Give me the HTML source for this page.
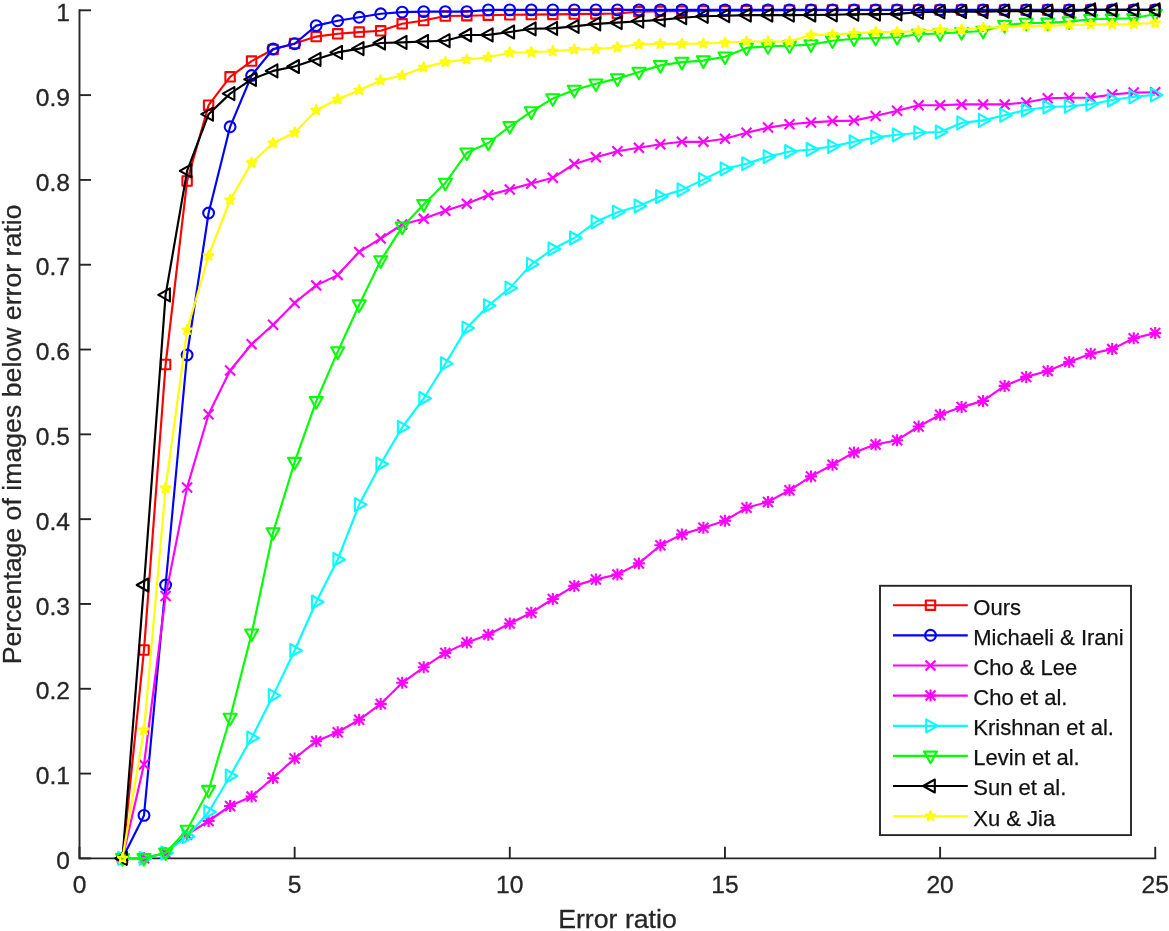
<!DOCTYPE html>
<html><head><meta charset="utf-8"><title>Error ratio</title>
<style>
html,body{margin:0;padding:0;background:#fff;}
body{width:1169px;height:931px;overflow:hidden;position:relative;font-family:"Liberation Sans",Arial,sans-serif;}
svg{position:absolute;left:0;top:0;display:block;}
text{font-family:"Liberation Sans",Arial,sans-serif;fill:#262626;}
.tk{font-size:24.6px;stroke:#262626;stroke-width:0.3px;}
.lb{font-size:26.7px;stroke:#262626;stroke-width:0.3px;}
.lg{font-size:22px;fill:#111;stroke:#111;stroke-width:0.25px;}
</style></head><body>
<svg width="1169" height="931" viewBox="0 0 1169 931">
<rect x="0" y="0" width="1169" height="931" fill="#fff"/>

<g stroke="#262626" stroke-width="1.9" fill="none" stroke-linecap="butt">
<path d="M79.5 9.35V858.4H1156.20"/>
<path d="M79.5 858.40H91.0"/>
<path d="M79.5 773.59H91.0"/>
<path d="M79.5 688.78H91.0"/>
<path d="M79.5 603.97H91.0"/>
<path d="M79.5 519.16H91.0"/>
<path d="M79.5 434.35H91.0"/>
<path d="M79.5 349.54H91.0"/>
<path d="M79.5 264.73H91.0"/>
<path d="M79.5 179.92H91.0"/>
<path d="M79.5 95.11H91.0"/>
<path d="M79.5 10.30H91.0"/>
<path d="M79.50 858.4V846.8"/>
<path d="M294.65 858.4V846.8"/>
<path d="M509.80 858.4V846.8"/>
<path d="M724.95 858.4V846.8"/>
<path d="M940.10 858.4V846.8"/>
<path d="M1155.25 858.4V846.8"/>
</g>

<text class="tk" x="70.0" y="869.0" text-anchor="end">0</text>
<text class="tk" x="70.0" y="784.2" text-anchor="end">0.1</text>
<text class="tk" x="70.0" y="699.4" text-anchor="end">0.2</text>
<text class="tk" x="70.0" y="614.6" text-anchor="end">0.3</text>
<text class="tk" x="70.0" y="529.8" text-anchor="end">0.4</text>
<text class="tk" x="70.0" y="444.9" text-anchor="end">0.5</text>
<text class="tk" x="70.0" y="360.1" text-anchor="end">0.6</text>
<text class="tk" x="70.0" y="275.3" text-anchor="end">0.7</text>
<text class="tk" x="70.0" y="190.5" text-anchor="end">0.8</text>
<text class="tk" x="70.0" y="105.7" text-anchor="end">0.9</text>
<text class="tk" x="70.0" y="20.9" text-anchor="end">1</text>
<text class="tk" x="79.5" y="893.4" text-anchor="middle">0</text>
<text class="tk" x="294.6" y="893.4" text-anchor="middle">5</text>
<text class="tk" x="509.8" y="893.4" text-anchor="middle">10</text>
<text class="tk" x="725.0" y="893.4" text-anchor="middle">15</text>
<text class="tk" x="940.1" y="893.4" text-anchor="middle">20</text>
<text class="tk" x="1155.2" y="893.4" text-anchor="middle">25</text>
<text class="lb" x="617.5" y="928.4" text-anchor="middle">Error ratio</text>
<text class="lb" transform="translate(20.5 434.4) rotate(-90)" text-anchor="middle">Percentage of images below error ratio</text>

<g fill="none" stroke="#ff0000" stroke-linejoin="round">
<polyline stroke-width="2.15" points="122.5,858.3 144.0,650.0 165.6,364.5 187.1,181.0 208.6,105.2 230.1,76.8 251.6,61.1 273.1,49.5 294.6,43.5 316.2,36.6 337.7,33.8 359.2,32.1 380.7,30.8 402.2,23.8 423.7,20.5 445.3,16.0 466.8,15.7 488.3,15.2 509.8,14.8 531.3,14.6 552.8,14.4 574.3,14.1 595.9,13.9 617.4,13.5 638.9,11.6 660.4,11.3 681.9,11.2 703.4,11.0 725.0,10.8 746.5,10.6 768.0,10.4 789.5,10.2 811.0,10.0 832.5,10.0 854.0,10.0 875.6,10.0 897.1,10.0 918.6,10.0 940.1,10.0 961.6,10.0 983.1,10.0 1004.6,10.0 1026.2,10.0 1047.7,10.0 1069.2,10.0 1090.7,10.0 1112.2,10.0 1133.7,10.0 1155.2,10.0"/>
<g stroke-width="2.1">
<rect x="117.8" y="853.6" width="9.4" height="9.4"/>
<rect x="139.3" y="645.3" width="9.4" height="9.4"/>
<rect x="160.9" y="359.8" width="9.4" height="9.4"/>
<rect x="182.4" y="176.3" width="9.4" height="9.4"/>
<rect x="203.9" y="100.5" width="9.4" height="9.4"/>
<rect x="225.4" y="72.1" width="9.4" height="9.4"/>
<rect x="246.9" y="56.4" width="9.4" height="9.4"/>
<rect x="268.4" y="44.8" width="9.4" height="9.4"/>
<rect x="289.9" y="38.8" width="9.4" height="9.4"/>
<rect x="311.5" y="31.9" width="9.4" height="9.4"/>
<rect x="333.0" y="29.1" width="9.4" height="9.4"/>
<rect x="354.5" y="27.4" width="9.4" height="9.4"/>
<rect x="376.0" y="26.1" width="9.4" height="9.4"/>
<rect x="397.5" y="19.1" width="9.4" height="9.4"/>
<rect x="419.0" y="15.8" width="9.4" height="9.4"/>
<rect x="440.6" y="11.3" width="9.4" height="9.4"/>
<rect x="462.1" y="11.0" width="9.4" height="9.4"/>
<rect x="483.6" y="10.5" width="9.4" height="9.4"/>
<rect x="505.1" y="10.1" width="9.4" height="9.4"/>
<rect x="526.6" y="9.9" width="9.4" height="9.4"/>
<rect x="548.1" y="9.7" width="9.4" height="9.4"/>
<rect x="569.6" y="9.4" width="9.4" height="9.4"/>
<rect x="591.2" y="9.2" width="9.4" height="9.4"/>
<rect x="612.7" y="8.8" width="9.4" height="9.4"/>
<rect x="634.2" y="6.9" width="9.4" height="9.4"/>
<rect x="655.7" y="6.6" width="9.4" height="9.4"/>
<rect x="677.2" y="6.5" width="9.4" height="9.4"/>
<rect x="698.7" y="6.3" width="9.4" height="9.4"/>
<rect x="720.2" y="6.1" width="9.4" height="9.4"/>
<rect x="741.8" y="5.9" width="9.4" height="9.4"/>
<rect x="763.3" y="5.7" width="9.4" height="9.4"/>
<rect x="784.8" y="5.5" width="9.4" height="9.4"/>
<rect x="806.3" y="5.3" width="9.4" height="9.4"/>
<rect x="827.8" y="5.3" width="9.4" height="9.4"/>
<rect x="849.3" y="5.3" width="9.4" height="9.4"/>
<rect x="870.9" y="5.3" width="9.4" height="9.4"/>
<rect x="892.4" y="5.3" width="9.4" height="9.4"/>
<rect x="913.9" y="5.3" width="9.4" height="9.4"/>
<rect x="935.4" y="5.3" width="9.4" height="9.4"/>
<rect x="956.9" y="5.3" width="9.4" height="9.4"/>
<rect x="978.4" y="5.3" width="9.4" height="9.4"/>
<rect x="999.9" y="5.3" width="9.4" height="9.4"/>
<rect x="1021.5" y="5.3" width="9.4" height="9.4"/>
<rect x="1043.0" y="5.3" width="9.4" height="9.4"/>
<rect x="1064.5" y="5.3" width="9.4" height="9.4"/>
<rect x="1086.0" y="5.3" width="9.4" height="9.4"/>
<rect x="1107.5" y="5.3" width="9.4" height="9.4"/>
<rect x="1129.0" y="5.3" width="9.4" height="9.4"/>
<rect x="1150.5" y="5.3" width="9.4" height="9.4"/>
</g></g>

<g fill="none" stroke="#0000ff" stroke-linejoin="round">
<polyline stroke-width="2.15" points="122.5,858.3 144.0,815.4 165.6,585.0 187.1,355.0 208.6,213.0 230.1,126.8 251.6,75.5 273.1,49.0 294.6,43.7 316.2,25.6 337.7,20.8 359.2,17.3 380.7,13.8 402.2,12.1 423.7,11.6 445.3,11.6 466.8,11.6 488.3,9.9 509.8,9.9 531.3,9.9 552.8,9.9 574.3,9.9 595.9,9.9 617.4,9.9 638.9,9.9 660.4,9.9 681.9,9.9 703.4,9.9 725.0,9.9 746.5,9.9 768.0,9.9 789.5,9.9 811.0,9.9 832.5,9.9 854.0,9.9 875.6,9.9 897.1,9.9 918.6,9.9 940.1,9.9 961.6,9.9 983.1,9.9 1004.6,9.9 1026.2,9.9 1047.7,9.9 1069.2,9.9 1090.7,9.9 1112.2,9.9 1133.7,9.9 1155.2,9.9"/>
<g stroke-width="2.1">
<circle cx="122.5" cy="858.3" r="5.4"/>
<circle cx="144.0" cy="815.4" r="5.4"/>
<circle cx="165.6" cy="585.0" r="5.4"/>
<circle cx="187.1" cy="355.0" r="5.4"/>
<circle cx="208.6" cy="213.0" r="5.4"/>
<circle cx="230.1" cy="126.8" r="5.4"/>
<circle cx="251.6" cy="75.5" r="5.4"/>
<circle cx="273.1" cy="49.0" r="5.4"/>
<circle cx="294.6" cy="43.7" r="5.4"/>
<circle cx="316.2" cy="25.6" r="5.4"/>
<circle cx="337.7" cy="20.8" r="5.4"/>
<circle cx="359.2" cy="17.3" r="5.4"/>
<circle cx="380.7" cy="13.8" r="5.4"/>
<circle cx="402.2" cy="12.1" r="5.4"/>
<circle cx="423.7" cy="11.6" r="5.4"/>
<circle cx="445.3" cy="11.6" r="5.4"/>
<circle cx="466.8" cy="11.6" r="5.4"/>
<circle cx="488.3" cy="9.9" r="5.4"/>
<circle cx="509.8" cy="9.9" r="5.4"/>
<circle cx="531.3" cy="9.9" r="5.4"/>
<circle cx="552.8" cy="9.9" r="5.4"/>
<circle cx="574.3" cy="9.9" r="5.4"/>
<circle cx="595.9" cy="9.9" r="5.4"/>
<circle cx="617.4" cy="9.9" r="5.4"/>
<circle cx="638.9" cy="9.9" r="5.4"/>
<circle cx="660.4" cy="9.9" r="5.4"/>
<circle cx="681.9" cy="9.9" r="5.4"/>
<circle cx="703.4" cy="9.9" r="5.4"/>
<circle cx="725.0" cy="9.9" r="5.4"/>
<circle cx="746.5" cy="9.9" r="5.4"/>
<circle cx="768.0" cy="9.9" r="5.4"/>
<circle cx="789.5" cy="9.9" r="5.4"/>
<circle cx="811.0" cy="9.9" r="5.4"/>
<circle cx="832.5" cy="9.9" r="5.4"/>
<circle cx="854.0" cy="9.9" r="5.4"/>
<circle cx="875.6" cy="9.9" r="5.4"/>
<circle cx="897.1" cy="9.9" r="5.4"/>
<circle cx="918.6" cy="9.9" r="5.4"/>
<circle cx="940.1" cy="9.9" r="5.4"/>
<circle cx="961.6" cy="9.9" r="5.4"/>
<circle cx="983.1" cy="9.9" r="5.4"/>
<circle cx="1004.6" cy="9.9" r="5.4"/>
<circle cx="1026.2" cy="9.9" r="5.4"/>
<circle cx="1047.7" cy="9.9" r="5.4"/>
<circle cx="1069.2" cy="9.9" r="5.4"/>
<circle cx="1090.7" cy="9.9" r="5.4"/>
<circle cx="1112.2" cy="9.9" r="5.4"/>
<circle cx="1133.7" cy="9.9" r="5.4"/>
<circle cx="1155.2" cy="9.9" r="5.4"/>
</g></g>

<g fill="none" stroke="#ff00ff" stroke-linejoin="round">
<polyline stroke-width="2.15" points="122.5,858.3 144.0,764.4 165.6,596.1 187.1,487.4 208.6,414.3 230.1,370.5 251.6,344.2 273.1,324.8 294.6,302.9 316.2,285.4 337.7,275.1 359.2,251.9 380.7,238.5 402.2,224.5 423.7,218.8 445.3,210.8 466.8,203.7 488.3,195.1 509.8,189.4 531.3,183.5 552.8,177.8 574.3,164.0 595.9,157.2 617.4,151.3 638.9,147.7 660.4,144.3 681.9,141.8 703.4,141.8 725.0,138.7 746.5,132.7 768.0,127.6 789.5,124.2 811.0,122.4 832.5,121.1 854.0,120.6 875.6,116.0 897.1,110.8 918.6,105.2 940.1,105.2 961.6,104.4 983.1,104.4 1004.6,104.4 1026.2,102.5 1047.7,98.3 1069.2,97.8 1090.7,97.6 1112.2,94.5 1133.7,92.6 1155.2,92.2"/>
<g stroke-width="2.1">
<path d="M117.5 853.3L127.5 863.3M117.5 863.3L127.5 853.3"/>
<path d="M139.0 759.4L149.0 769.4M139.0 769.4L149.0 759.4"/>
<path d="M160.6 591.1L170.6 601.1M160.6 601.1L170.6 591.1"/>
<path d="M182.1 482.4L192.1 492.4M182.1 492.4L192.1 482.4"/>
<path d="M203.6 409.3L213.6 419.3M203.6 419.3L213.6 409.3"/>
<path d="M225.1 365.5L235.1 375.5M225.1 375.5L235.1 365.5"/>
<path d="M246.6 339.2L256.6 349.2M246.6 349.2L256.6 339.2"/>
<path d="M268.1 319.8L278.1 329.8M268.1 329.8L278.1 319.8"/>
<path d="M289.6 297.9L299.6 307.9M289.6 307.9L299.6 297.9"/>
<path d="M311.2 280.4L321.2 290.4M311.2 290.4L321.2 280.4"/>
<path d="M332.7 270.1L342.7 280.1M332.7 280.1L342.7 270.1"/>
<path d="M354.2 246.9L364.2 256.9M354.2 256.9L364.2 246.9"/>
<path d="M375.7 233.5L385.7 243.5M375.7 243.5L385.7 233.5"/>
<path d="M397.2 219.5L407.2 229.5M397.2 229.5L407.2 219.5"/>
<path d="M418.7 213.8L428.7 223.8M418.7 223.8L428.7 213.8"/>
<path d="M440.3 205.8L450.3 215.8M440.3 215.8L450.3 205.8"/>
<path d="M461.8 198.7L471.8 208.7M461.8 208.7L471.8 198.7"/>
<path d="M483.3 190.1L493.3 200.1M483.3 200.1L493.3 190.1"/>
<path d="M504.8 184.4L514.8 194.4M504.8 194.4L514.8 184.4"/>
<path d="M526.3 178.5L536.3 188.5M526.3 188.5L536.3 178.5"/>
<path d="M547.8 172.8L557.8 182.8M547.8 182.8L557.8 172.8"/>
<path d="M569.3 159.0L579.3 169.0M569.3 169.0L579.3 159.0"/>
<path d="M590.9 152.2L600.9 162.2M590.9 162.2L600.9 152.2"/>
<path d="M612.4 146.3L622.4 156.3M612.4 156.3L622.4 146.3"/>
<path d="M633.9 142.7L643.9 152.7M633.9 152.7L643.9 142.7"/>
<path d="M655.4 139.3L665.4 149.3M655.4 149.3L665.4 139.3"/>
<path d="M676.9 136.8L686.9 146.8M676.9 146.8L686.9 136.8"/>
<path d="M698.4 136.8L708.4 146.8M698.4 146.8L708.4 136.8"/>
<path d="M720.0 133.7L730.0 143.7M720.0 143.7L730.0 133.7"/>
<path d="M741.5 127.7L751.5 137.7M741.5 137.7L751.5 127.7"/>
<path d="M763.0 122.6L773.0 132.6M763.0 132.6L773.0 122.6"/>
<path d="M784.5 119.2L794.5 129.2M784.5 129.2L794.5 119.2"/>
<path d="M806.0 117.4L816.0 127.4M806.0 127.4L816.0 117.4"/>
<path d="M827.5 116.1L837.5 126.1M827.5 126.1L837.5 116.1"/>
<path d="M849.0 115.6L859.0 125.6M849.0 125.6L859.0 115.6"/>
<path d="M870.6 111.0L880.6 121.0M870.6 121.0L880.6 111.0"/>
<path d="M892.1 105.8L902.1 115.8M892.1 115.8L902.1 105.8"/>
<path d="M913.6 100.2L923.6 110.2M913.6 110.2L923.6 100.2"/>
<path d="M935.1 100.2L945.1 110.2M935.1 110.2L945.1 100.2"/>
<path d="M956.6 99.4L966.6 109.4M956.6 109.4L966.6 99.4"/>
<path d="M978.1 99.4L988.1 109.4M978.1 109.4L988.1 99.4"/>
<path d="M999.6 99.4L1009.6 109.4M999.6 109.4L1009.6 99.4"/>
<path d="M1021.2 97.5L1031.2 107.5M1021.2 107.5L1031.2 97.5"/>
<path d="M1042.7 93.3L1052.7 103.3M1042.7 103.3L1052.7 93.3"/>
<path d="M1064.2 92.8L1074.2 102.8M1064.2 102.8L1074.2 92.8"/>
<path d="M1085.7 92.6L1095.7 102.6M1085.7 102.6L1095.7 92.6"/>
<path d="M1107.2 89.5L1117.2 99.5M1107.2 99.5L1117.2 89.5"/>
<path d="M1128.7 87.6L1138.7 97.6M1128.7 97.6L1138.7 87.6"/>
<path d="M1150.2 87.2L1160.2 97.2M1150.2 97.2L1160.2 87.2"/>
</g></g>

<g fill="none" stroke="#ff00ff" stroke-linejoin="round">
<polyline stroke-width="2.15" points="122.5,858.3 144.0,858.3 165.6,853.3 187.1,834.7 208.6,821.0 230.1,806.0 251.6,796.6 273.1,778.0 294.6,758.5 316.2,741.2 337.7,732.2 359.2,719.8 380.7,703.9 402.2,682.8 423.7,667.3 445.3,652.9 466.8,642.6 488.3,634.8 509.8,623.5 531.3,612.7 552.8,599.0 574.3,585.9 595.9,579.4 617.4,574.5 638.9,563.4 660.4,545.3 681.9,534.4 703.4,527.7 725.0,520.7 746.5,507.8 768.0,501.9 789.5,490.3 811.0,476.4 832.5,464.8 854.0,452.4 875.6,444.5 897.1,440.2 918.6,426.5 940.1,414.8 961.6,407.1 983.1,400.9 1004.6,385.9 1026.2,376.9 1047.7,371.0 1069.2,362.0 1090.7,353.7 1112.2,349.1 1133.7,338.2 1155.2,333.1"/>
<g stroke-width="2.1">
<path d="M116.5 858.3H128.5M122.5 852.3V864.3M117.5 853.3L127.5 863.3M117.5 863.3L127.5 853.3"/>
<path d="M138.0 858.3H150.0M144.0 852.3V864.3M139.0 853.3L149.0 863.3M139.0 863.3L149.0 853.3"/>
<path d="M159.6 853.3H171.6M165.6 847.3V859.3M160.6 848.3L170.6 858.3M160.6 858.3L170.6 848.3"/>
<path d="M181.1 834.7H193.1M187.1 828.7V840.7M182.1 829.7L192.1 839.7M182.1 839.7L192.1 829.7"/>
<path d="M202.6 821.0H214.6M208.6 815.0V827.0M203.6 816.0L213.6 826.0M203.6 826.0L213.6 816.0"/>
<path d="M224.1 806.0H236.1M230.1 800.0V812.0M225.1 801.0L235.1 811.0M225.1 811.0L235.1 801.0"/>
<path d="M245.6 796.6H257.6M251.6 790.6V802.6M246.6 791.6L256.6 801.6M246.6 801.6L256.6 791.6"/>
<path d="M267.1 778.0H279.1M273.1 772.0V784.0M268.1 773.0L278.1 783.0M268.1 783.0L278.1 773.0"/>
<path d="M288.6 758.5H300.6M294.6 752.5V764.5M289.6 753.5L299.6 763.5M289.6 763.5L299.6 753.5"/>
<path d="M310.2 741.2H322.2M316.2 735.2V747.2M311.2 736.2L321.2 746.2M311.2 746.2L321.2 736.2"/>
<path d="M331.7 732.2H343.7M337.7 726.2V738.2M332.7 727.2L342.7 737.2M332.7 737.2L342.7 727.2"/>
<path d="M353.2 719.8H365.2M359.2 713.8V725.8M354.2 714.8L364.2 724.8M354.2 724.8L364.2 714.8"/>
<path d="M374.7 703.9H386.7M380.7 697.9V709.9M375.7 698.9L385.7 708.9M375.7 708.9L385.7 698.9"/>
<path d="M396.2 682.8H408.2M402.2 676.8V688.8M397.2 677.8L407.2 687.8M397.2 687.8L407.2 677.8"/>
<path d="M417.7 667.3H429.7M423.7 661.3V673.3M418.7 662.3L428.7 672.3M418.7 672.3L428.7 662.3"/>
<path d="M439.3 652.9H451.3M445.3 646.9V658.9M440.3 647.9L450.3 657.9M440.3 657.9L450.3 647.9"/>
<path d="M460.8 642.6H472.8M466.8 636.6V648.6M461.8 637.6L471.8 647.6M461.8 647.6L471.8 637.6"/>
<path d="M482.3 634.8H494.3M488.3 628.8V640.8M483.3 629.8L493.3 639.8M483.3 639.8L493.3 629.8"/>
<path d="M503.8 623.5H515.8M509.8 617.5V629.5M504.8 618.5L514.8 628.5M504.8 628.5L514.8 618.5"/>
<path d="M525.3 612.7H537.3M531.3 606.7V618.7M526.3 607.7L536.3 617.7M526.3 617.7L536.3 607.7"/>
<path d="M546.8 599.0H558.8M552.8 593.0V605.0M547.8 594.0L557.8 604.0M547.8 604.0L557.8 594.0"/>
<path d="M568.3 585.9H580.3M574.3 579.9V591.9M569.3 580.9L579.3 590.9M569.3 590.9L579.3 580.9"/>
<path d="M589.9 579.4H601.9M595.9 573.4V585.4M590.9 574.4L600.9 584.4M590.9 584.4L600.9 574.4"/>
<path d="M611.4 574.5H623.4M617.4 568.5V580.5M612.4 569.5L622.4 579.5M612.4 579.5L622.4 569.5"/>
<path d="M632.9 563.4H644.9M638.9 557.4V569.4M633.9 558.4L643.9 568.4M633.9 568.4L643.9 558.4"/>
<path d="M654.4 545.3H666.4M660.4 539.3V551.3M655.4 540.3L665.4 550.3M655.4 550.3L665.4 540.3"/>
<path d="M675.9 534.4H687.9M681.9 528.4V540.4M676.9 529.4L686.9 539.4M676.9 539.4L686.9 529.4"/>
<path d="M697.4 527.7H709.4M703.4 521.7V533.7M698.4 522.7L708.4 532.7M698.4 532.7L708.4 522.7"/>
<path d="M719.0 520.7H731.0M725.0 514.7V526.7M720.0 515.7L730.0 525.7M720.0 525.7L730.0 515.7"/>
<path d="M740.5 507.8H752.5M746.5 501.8V513.8M741.5 502.8L751.5 512.8M741.5 512.8L751.5 502.8"/>
<path d="M762.0 501.9H774.0M768.0 495.9V507.9M763.0 496.9L773.0 506.9M763.0 506.9L773.0 496.9"/>
<path d="M783.5 490.3H795.5M789.5 484.3V496.3M784.5 485.3L794.5 495.3M784.5 495.3L794.5 485.3"/>
<path d="M805.0 476.4H817.0M811.0 470.4V482.4M806.0 471.4L816.0 481.4M806.0 481.4L816.0 471.4"/>
<path d="M826.5 464.8H838.5M832.5 458.8V470.8M827.5 459.8L837.5 469.8M827.5 469.8L837.5 459.8"/>
<path d="M848.0 452.4H860.0M854.0 446.4V458.4M849.0 447.4L859.0 457.4M849.0 457.4L859.0 447.4"/>
<path d="M869.6 444.5H881.6M875.6 438.5V450.5M870.6 439.5L880.6 449.5M870.6 449.5L880.6 439.5"/>
<path d="M891.1 440.2H903.1M897.1 434.2V446.2M892.1 435.2L902.1 445.2M892.1 445.2L902.1 435.2"/>
<path d="M912.6 426.5H924.6M918.6 420.5V432.5M913.6 421.5L923.6 431.5M913.6 431.5L923.6 421.5"/>
<path d="M934.1 414.8H946.1M940.1 408.8V420.8M935.1 409.8L945.1 419.8M935.1 419.8L945.1 409.8"/>
<path d="M955.6 407.1H967.6M961.6 401.1V413.1M956.6 402.1L966.6 412.1M956.6 412.1L966.6 402.1"/>
<path d="M977.1 400.9H989.1M983.1 394.9V406.9M978.1 395.9L988.1 405.9M978.1 405.9L988.1 395.9"/>
<path d="M998.6 385.9H1010.6M1004.6 379.9V391.9M999.6 380.9L1009.6 390.9M999.6 390.9L1009.6 380.9"/>
<path d="M1020.2 376.9H1032.2M1026.2 370.9V382.9M1021.2 371.9L1031.2 381.9M1021.2 381.9L1031.2 371.9"/>
<path d="M1041.7 371.0H1053.7M1047.7 365.0V377.0M1042.7 366.0L1052.7 376.0M1042.7 376.0L1052.7 366.0"/>
<path d="M1063.2 362.0H1075.2M1069.2 356.0V368.0M1064.2 357.0L1074.2 367.0M1064.2 367.0L1074.2 357.0"/>
<path d="M1084.7 353.7H1096.7M1090.7 347.7V359.7M1085.7 348.7L1095.7 358.7M1085.7 358.7L1095.7 348.7"/>
<path d="M1106.2 349.1H1118.2M1112.2 343.1V355.1M1107.2 344.1L1117.2 354.1M1107.2 354.1L1117.2 344.1"/>
<path d="M1127.7 338.2H1139.7M1133.7 332.2V344.2M1128.7 333.2L1138.7 343.2M1128.7 343.2L1138.7 333.2"/>
<path d="M1149.2 333.1H1161.2M1155.2 327.1V339.1M1150.2 328.1L1160.2 338.1M1150.2 338.1L1160.2 328.1"/>
</g></g>

<g fill="none" stroke="#00ffff" stroke-linejoin="round">
<polyline stroke-width="2.15" points="122.5,858.3 144.0,858.3 165.6,853.0 187.1,836.5 208.6,812.0 230.1,776.0 251.6,738.0 273.1,695.6 294.6,650.5 316.2,602.0 337.7,559.5 359.2,504.6 380.7,464.0 402.2,427.3 423.7,398.5 445.3,363.7 466.8,328.1 488.3,305.7 509.8,288.1 531.3,264.4 552.8,249.0 574.3,238.0 595.9,221.8 617.4,212.2 638.9,206.0 660.4,196.5 681.9,189.9 703.4,179.6 725.0,168.8 746.5,163.7 768.0,156.7 789.5,151.5 811.0,149.5 832.5,146.4 854.0,141.8 875.6,137.4 897.1,134.8 918.6,132.7 940.1,132.0 961.6,122.9 983.1,120.4 1004.6,115.2 1026.2,110.0 1047.7,107.0 1069.2,106.2 1090.7,104.2 1112.2,100.0 1133.7,96.8 1155.2,94.9"/>
<g stroke-width="2.1">
<path d="M118.2 851.8L129.8 858.3L118.2 864.8Z"/>
<path d="M139.7 851.8L151.3 858.3L139.7 864.8Z"/>
<path d="M161.3 846.5L172.9 853.0L161.3 859.5Z"/>
<path d="M182.8 830.0L194.4 836.5L182.8 843.0Z"/>
<path d="M204.3 805.5L215.9 812.0L204.3 818.5Z"/>
<path d="M225.8 769.5L237.4 776.0L225.8 782.5Z"/>
<path d="M247.3 731.5L258.9 738.0L247.3 744.5Z"/>
<path d="M268.8 689.1L280.4 695.6L268.8 702.1Z"/>
<path d="M290.3 644.0L301.9 650.5L290.3 657.0Z"/>
<path d="M311.9 595.5L323.5 602.0L311.9 608.5Z"/>
<path d="M333.4 553.0L345.0 559.5L333.4 566.0Z"/>
<path d="M354.9 498.1L366.5 504.6L354.9 511.1Z"/>
<path d="M376.4 457.5L388.0 464.0L376.4 470.5Z"/>
<path d="M397.9 420.8L409.5 427.3L397.9 433.8Z"/>
<path d="M419.4 392.0L431.0 398.5L419.4 405.0Z"/>
<path d="M441.0 357.2L452.6 363.7L441.0 370.2Z"/>
<path d="M462.5 321.6L474.1 328.1L462.5 334.6Z"/>
<path d="M484.0 299.2L495.6 305.7L484.0 312.2Z"/>
<path d="M505.5 281.6L517.1 288.1L505.5 294.6Z"/>
<path d="M527.0 257.9L538.6 264.4L527.0 270.9Z"/>
<path d="M548.5 242.5L560.1 249.0L548.5 255.5Z"/>
<path d="M570.0 231.5L581.6 238.0L570.0 244.5Z"/>
<path d="M591.6 215.3L603.2 221.8L591.6 228.3Z"/>
<path d="M613.1 205.7L624.7 212.2L613.1 218.7Z"/>
<path d="M634.6 199.5L646.2 206.0L634.6 212.5Z"/>
<path d="M656.1 190.0L667.7 196.5L656.1 203.0Z"/>
<path d="M677.6 183.4L689.2 189.9L677.6 196.4Z"/>
<path d="M699.1 173.1L710.7 179.6L699.1 186.1Z"/>
<path d="M720.7 162.3L732.2 168.8L720.7 175.3Z"/>
<path d="M742.2 157.2L753.8 163.7L742.2 170.2Z"/>
<path d="M763.7 150.2L775.3 156.7L763.7 163.2Z"/>
<path d="M785.2 145.0L796.8 151.5L785.2 158.0Z"/>
<path d="M806.7 143.0L818.3 149.5L806.7 156.0Z"/>
<path d="M828.2 139.9L839.8 146.4L828.2 152.9Z"/>
<path d="M849.7 135.3L861.3 141.8L849.7 148.3Z"/>
<path d="M871.3 130.9L882.9 137.4L871.3 143.9Z"/>
<path d="M892.8 128.3L904.4 134.8L892.8 141.3Z"/>
<path d="M914.3 126.2L925.9 132.7L914.3 139.2Z"/>
<path d="M935.8 125.5L947.4 132.0L935.8 138.5Z"/>
<path d="M957.3 116.4L968.9 122.9L957.3 129.4Z"/>
<path d="M978.8 113.9L990.4 120.4L978.8 126.9Z"/>
<path d="M1000.3 108.7L1011.9 115.2L1000.3 121.7Z"/>
<path d="M1021.9 103.5L1033.5 110.0L1021.9 116.5Z"/>
<path d="M1043.4 100.5L1055.0 107.0L1043.4 113.5Z"/>
<path d="M1064.9 99.7L1076.5 106.2L1064.9 112.7Z"/>
<path d="M1086.4 97.7L1098.0 104.2L1086.4 110.7Z"/>
<path d="M1107.9 93.5L1119.5 100.0L1107.9 106.5Z"/>
<path d="M1129.4 90.3L1141.0 96.8L1129.4 103.3Z"/>
<path d="M1151.0 88.4L1162.5 94.9L1151.0 101.4Z"/>
</g></g>

<g fill="none" stroke="#00ff00" stroke-linejoin="round">
<polyline stroke-width="2.15" points="122.5,858.3 144.0,858.3 165.6,852.8 187.1,830.1 208.6,790.2 230.1,718.0 251.6,633.8 273.1,532.5 294.6,462.2 316.2,401.4 337.7,351.6 359.2,304.7 380.7,260.5 402.2,226.9 423.7,204.4 445.3,183.0 466.8,152.8 488.3,143.0 509.8,126.3 531.3,111.6 552.8,98.5 574.3,90.0 595.9,83.8 617.4,78.6 638.9,72.0 660.4,65.4 681.9,62.1 703.4,60.6 725.0,56.8 746.5,47.9 768.0,46.4 789.5,45.7 811.0,44.6 832.5,40.7 854.0,38.7 875.6,38.0 897.1,37.3 918.6,34.2 940.1,33.5 961.6,32.3 983.1,31.0 1004.6,25.3 1026.2,23.0 1047.7,22.9 1069.2,21.6 1090.7,19.3 1112.2,18.8 1133.7,18.3 1155.2,14.0"/>
<g stroke-width="2.1">
<path d="M116.0 854.0L122.5 865.6L129.0 854.0Z"/>
<path d="M137.5 854.0L144.0 865.6L150.5 854.0Z"/>
<path d="M159.1 848.5L165.6 860.1L172.1 848.5Z"/>
<path d="M180.6 825.8L187.1 837.4L193.6 825.8Z"/>
<path d="M202.1 785.9L208.6 797.5L215.1 785.9Z"/>
<path d="M223.6 713.7L230.1 725.3L236.6 713.7Z"/>
<path d="M245.1 629.5L251.6 641.1L258.1 629.5Z"/>
<path d="M266.6 528.2L273.1 539.8L279.6 528.2Z"/>
<path d="M288.1 457.9L294.6 469.5L301.1 457.9Z"/>
<path d="M309.7 397.1L316.2 408.7L322.7 397.1Z"/>
<path d="M331.2 347.3L337.7 358.9L344.2 347.3Z"/>
<path d="M352.7 300.4L359.2 312.0L365.7 300.4Z"/>
<path d="M374.2 256.2L380.7 267.8L387.2 256.2Z"/>
<path d="M395.7 222.6L402.2 234.2L408.7 222.6Z"/>
<path d="M417.2 200.1L423.7 211.7L430.2 200.1Z"/>
<path d="M438.8 178.7L445.3 190.3L451.8 178.7Z"/>
<path d="M460.3 148.5L466.8 160.1L473.3 148.5Z"/>
<path d="M481.8 138.7L488.3 150.3L494.8 138.7Z"/>
<path d="M503.3 122.0L509.8 133.6L516.3 122.0Z"/>
<path d="M524.8 107.3L531.3 118.9L537.8 107.3Z"/>
<path d="M546.3 94.2L552.8 105.8L559.3 94.2Z"/>
<path d="M567.8 85.7L574.3 97.3L580.8 85.7Z"/>
<path d="M589.4 79.5L595.9 91.1L602.4 79.5Z"/>
<path d="M610.9 74.3L617.4 85.9L623.9 74.3Z"/>
<path d="M632.4 67.7L638.9 79.3L645.4 67.7Z"/>
<path d="M653.9 61.1L660.4 72.7L666.9 61.1Z"/>
<path d="M675.4 57.8L681.9 69.4L688.4 57.8Z"/>
<path d="M696.9 56.3L703.4 67.9L709.9 56.3Z"/>
<path d="M718.5 52.5L725.0 64.1L731.5 52.5Z"/>
<path d="M740.0 43.6L746.5 55.2L753.0 43.6Z"/>
<path d="M761.5 42.1L768.0 53.7L774.5 42.1Z"/>
<path d="M783.0 41.4L789.5 53.0L796.0 41.4Z"/>
<path d="M804.5 40.3L811.0 51.9L817.5 40.3Z"/>
<path d="M826.0 36.4L832.5 48.0L839.0 36.4Z"/>
<path d="M847.5 34.4L854.0 46.0L860.5 34.4Z"/>
<path d="M869.1 33.7L875.6 45.3L882.1 33.7Z"/>
<path d="M890.6 33.0L897.1 44.6L903.6 33.0Z"/>
<path d="M912.1 29.9L918.6 41.5L925.1 29.9Z"/>
<path d="M933.6 29.2L940.1 40.8L946.6 29.2Z"/>
<path d="M955.1 28.0L961.6 39.6L968.1 28.0Z"/>
<path d="M976.6 26.7L983.1 38.3L989.6 26.7Z"/>
<path d="M998.1 21.0L1004.6 32.6L1011.1 21.0Z"/>
<path d="M1019.7 18.7L1026.2 30.3L1032.7 18.7Z"/>
<path d="M1041.2 18.6L1047.7 30.2L1054.2 18.6Z"/>
<path d="M1062.7 17.3L1069.2 28.9L1075.7 17.3Z"/>
<path d="M1084.2 15.0L1090.7 26.6L1097.2 15.0Z"/>
<path d="M1105.7 14.5L1112.2 26.1L1118.7 14.5Z"/>
<path d="M1127.2 14.0L1133.7 25.6L1140.2 14.0Z"/>
<path d="M1148.8 9.7L1155.2 21.3L1161.8 9.7Z"/>
</g></g>

<g fill="none" stroke="#000000" stroke-linejoin="round">
<polyline stroke-width="2.15" points="122.5,858.3 144.0,585.0 165.6,294.9 187.1,170.9 208.6,114.2 230.1,93.6 251.6,79.4 273.1,70.9 294.6,66.5 316.2,59.3 337.7,52.4 359.2,48.6 380.7,43.0 402.2,42.4 423.7,41.5 445.3,40.7 466.8,35.0 488.3,34.9 509.8,32.0 531.3,28.8 552.8,28.4 574.3,26.4 595.9,23.9 617.4,22.6 638.9,21.2 660.4,19.9 681.9,17.7 703.4,16.3 725.0,15.7 746.5,15.1 768.0,15.1 789.5,15.1 811.0,15.0 832.5,14.8 854.0,14.2 875.6,14.1 897.1,13.9 918.6,12.3 940.1,11.8 961.6,11.6 983.1,11.7 1004.6,11.1 1026.2,11.1 1047.7,11.1 1069.2,11.3 1090.7,9.9 1112.2,9.9 1133.7,9.9 1155.2,9.9"/>
<g stroke-width="2.1">
<path d="M126.8 851.8L115.2 858.3L126.8 864.8Z"/>
<path d="M148.3 578.5L136.7 585.0L148.3 591.5Z"/>
<path d="M169.9 288.4L158.3 294.9L169.9 301.4Z"/>
<path d="M191.4 164.4L179.8 170.9L191.4 177.4Z"/>
<path d="M212.9 107.7L201.3 114.2L212.9 120.7Z"/>
<path d="M234.4 87.1L222.8 93.6L234.4 100.1Z"/>
<path d="M255.9 72.9L244.3 79.4L255.9 85.9Z"/>
<path d="M277.4 64.4L265.8 70.9L277.4 77.4Z"/>
<path d="M298.9 60.0L287.3 66.5L298.9 73.0Z"/>
<path d="M320.5 52.8L308.9 59.3L320.5 65.8Z"/>
<path d="M342.0 45.9L330.4 52.4L342.0 58.9Z"/>
<path d="M363.5 42.1L351.9 48.6L363.5 55.1Z"/>
<path d="M385.0 36.5L373.4 43.0L385.0 49.5Z"/>
<path d="M406.5 35.9L394.9 42.4L406.5 48.9Z"/>
<path d="M428.0 35.0L416.4 41.5L428.0 48.0Z"/>
<path d="M449.6 34.2L438.0 40.7L449.6 47.2Z"/>
<path d="M471.1 28.5L459.5 35.0L471.1 41.5Z"/>
<path d="M492.6 28.4L481.0 34.9L492.6 41.4Z"/>
<path d="M514.1 25.5L502.5 32.0L514.1 38.5Z"/>
<path d="M535.6 22.3L524.0 28.8L535.6 35.3Z"/>
<path d="M557.1 21.9L545.5 28.4L557.1 34.9Z"/>
<path d="M578.6 19.9L567.0 26.4L578.6 32.9Z"/>
<path d="M600.2 17.4L588.6 23.9L600.2 30.4Z"/>
<path d="M621.7 16.1L610.1 22.6L621.7 29.1Z"/>
<path d="M643.2 14.7L631.6 21.2L643.2 27.7Z"/>
<path d="M664.7 13.4L653.1 19.9L664.7 26.4Z"/>
<path d="M686.2 11.2L674.6 17.7L686.2 24.2Z"/>
<path d="M707.7 9.8L696.1 16.3L707.7 22.8Z"/>
<path d="M729.2 9.2L717.7 15.7L729.2 22.2Z"/>
<path d="M750.8 8.6L739.2 15.1L750.8 21.6Z"/>
<path d="M772.3 8.6L760.7 15.1L772.3 21.6Z"/>
<path d="M793.8 8.6L782.2 15.1L793.8 21.6Z"/>
<path d="M815.3 8.5L803.7 15.0L815.3 21.5Z"/>
<path d="M836.8 8.3L825.2 14.8L836.8 21.3Z"/>
<path d="M858.3 7.7L846.7 14.2L858.3 20.7Z"/>
<path d="M879.9 7.6L868.3 14.1L879.9 20.6Z"/>
<path d="M901.4 7.4L889.8 13.9L901.4 20.4Z"/>
<path d="M922.9 5.8L911.3 12.3L922.9 18.8Z"/>
<path d="M944.4 5.3L932.8 11.8L944.4 18.3Z"/>
<path d="M965.9 5.1L954.3 11.6L965.9 18.1Z"/>
<path d="M987.4 5.2L975.8 11.7L987.4 18.2Z"/>
<path d="M1008.9 4.6L997.3 11.1L1008.9 17.6Z"/>
<path d="M1030.5 4.6L1018.9 11.1L1030.5 17.6Z"/>
<path d="M1052.0 4.6L1040.4 11.1L1052.0 17.6Z"/>
<path d="M1073.5 4.8L1061.9 11.3L1073.5 17.8Z"/>
<path d="M1095.0 3.4L1083.4 9.9L1095.0 16.4Z"/>
<path d="M1116.5 3.4L1104.9 9.9L1116.5 16.4Z"/>
<path d="M1138.0 3.4L1126.4 9.9L1138.0 16.4Z"/>
<path d="M1159.5 3.4L1148.0 9.9L1159.5 16.4Z"/>
</g></g>

<g fill="none" stroke="#ffff00" stroke-linejoin="round">
<polyline stroke-width="2.15" points="122.5,858.3 144.0,730.1 165.6,488.1 187.1,330.0 208.6,255.8 230.1,200.0 251.6,162.9 273.1,143.0 294.6,132.7 316.2,110.3 337.7,99.2 359.2,90.2 380.7,80.4 402.2,75.5 423.7,67.4 445.3,62.1 466.8,59.5 488.3,57.2 509.8,52.7 531.3,52.3 552.8,51.2 574.3,49.5 595.9,49.2 617.4,47.3 638.9,44.3 660.4,43.8 681.9,43.8 703.4,43.5 725.0,42.8 746.5,41.5 768.0,41.5 789.5,41.5 811.0,35.1 832.5,34.5 854.0,33.3 875.6,32.1 897.1,32.1 918.6,31.0 940.1,29.7 961.6,29.5 983.1,27.7 1004.6,27.1 1026.2,26.0 1047.7,26.0 1069.2,25.0 1090.7,24.5 1112.2,24.3 1133.7,24.0 1155.2,23.0"/>
<g stroke-width="2.1">
<path d="M122.5 853.3L123.7 856.7L127.3 856.8L124.4 858.9L125.5 862.3L122.5 860.3L119.6 862.3L120.6 858.9L117.8 856.8L121.4 856.7Z"/>
<path d="M144.0 725.1L145.2 728.5L148.8 728.6L145.9 730.7L147.0 734.1L144.0 732.1L141.1 734.1L142.1 730.7L139.3 728.6L142.9 728.5Z"/>
<path d="M165.6 483.1L166.7 486.5L170.3 486.6L167.5 488.7L168.5 492.1L165.6 490.1L162.6 492.1L163.7 488.7L160.8 486.6L164.4 486.5Z"/>
<path d="M187.1 325.0L188.3 328.4L191.8 328.5L189.0 330.6L190.0 334.0L187.1 332.0L184.1 334.0L185.2 330.6L182.3 328.5L185.9 328.4Z"/>
<path d="M208.6 250.8L209.8 254.2L213.3 254.3L210.5 256.4L211.5 259.8L208.6 257.8L205.7 259.8L206.7 256.4L203.8 254.3L207.4 254.2Z"/>
<path d="M230.1 195.0L231.3 198.4L234.9 198.5L232.0 200.6L233.0 204.0L230.1 202.0L227.2 204.0L228.2 200.6L225.3 198.5L228.9 198.4Z"/>
<path d="M251.6 157.9L252.8 161.3L256.4 161.4L253.5 163.5L254.6 166.9L251.6 164.9L248.7 166.9L249.7 163.5L246.9 161.4L250.4 161.3Z"/>
<path d="M273.1 138.0L274.3 141.4L277.9 141.5L275.0 143.6L276.1 147.0L273.1 145.0L270.2 147.0L271.2 143.6L268.4 141.5L272.0 141.4Z"/>
<path d="M294.6 127.7L295.8 131.1L299.4 131.2L296.6 133.3L297.6 136.7L294.6 134.7L291.7 136.7L292.7 133.3L289.9 131.2L293.5 131.1Z"/>
<path d="M316.2 105.3L317.3 108.7L320.9 108.8L318.1 110.9L319.1 114.3L316.2 112.3L313.2 114.3L314.3 110.9L311.4 108.8L315.0 108.7Z"/>
<path d="M337.7 94.2L338.9 97.6L342.4 97.7L339.6 99.8L340.6 103.2L337.7 101.2L334.7 103.2L335.8 99.8L332.9 97.7L336.5 97.6Z"/>
<path d="M359.2 85.2L360.4 88.6L364.0 88.7L361.1 90.8L362.1 94.2L359.2 92.2L356.3 94.2L357.3 90.8L354.4 88.7L358.0 88.6Z"/>
<path d="M380.7 75.4L381.9 78.8L385.5 78.9L382.6 81.0L383.6 84.4L380.7 82.4L377.8 84.4L378.8 81.0L376.0 78.9L379.5 78.8Z"/>
<path d="M402.2 70.5L403.4 73.9L407.0 74.0L404.1 76.1L405.2 79.5L402.2 77.5L399.3 79.5L400.3 76.1L397.5 74.0L401.0 73.9Z"/>
<path d="M423.7 62.4L424.9 65.8L428.5 65.9L425.6 68.0L426.7 71.4L423.7 69.4L420.8 71.4L421.8 68.0L419.0 65.9L422.6 65.8Z"/>
<path d="M445.3 57.1L446.4 60.5L450.0 60.6L447.2 62.7L448.2 66.1L445.3 64.1L442.3 66.1L443.4 62.7L440.5 60.6L444.1 60.5Z"/>
<path d="M466.8 54.5L467.9 57.9L471.5 58.0L468.7 60.1L469.7 63.5L466.8 61.5L463.8 63.5L464.9 60.1L462.0 58.0L465.6 57.9Z"/>
<path d="M488.3 52.2L489.5 55.6L493.0 55.7L490.2 57.8L491.2 61.2L488.3 59.2L485.3 61.2L486.4 57.8L483.5 55.7L487.1 55.6Z"/>
<path d="M509.8 47.7L511.0 51.1L514.6 51.2L511.7 53.3L512.7 56.7L509.8 54.7L506.9 56.7L507.9 53.3L505.0 51.2L508.6 51.1Z"/>
<path d="M531.3 47.3L532.5 50.7L536.1 50.8L533.2 52.9L534.3 56.3L531.3 54.3L528.4 56.3L529.4 52.9L526.6 50.8L530.1 50.7Z"/>
<path d="M552.8 46.2L554.0 49.6L557.6 49.7L554.7 51.8L555.8 55.2L552.8 53.2L549.9 55.2L550.9 51.8L548.1 49.7L551.7 49.6Z"/>
<path d="M574.3 44.5L575.5 47.9L579.1 48.0L576.2 50.1L577.3 53.5L574.3 51.5L571.4 53.5L572.4 50.1L569.6 48.0L573.2 47.9Z"/>
<path d="M595.9 44.2L597.0 47.6L600.6 47.7L597.8 49.8L598.8 53.2L595.9 51.2L592.9 53.2L594.0 49.8L591.1 47.7L594.7 47.6Z"/>
<path d="M617.4 42.3L618.6 45.7L622.1 45.8L619.3 47.9L620.3 51.3L617.4 49.3L614.4 51.3L615.5 47.9L612.6 45.8L616.2 45.7Z"/>
<path d="M638.9 39.3L640.1 42.7L643.6 42.8L640.8 44.9L641.8 48.3L638.9 46.3L636.0 48.3L637.0 44.9L634.1 42.8L637.7 42.7Z"/>
<path d="M660.4 38.8L661.6 42.2L665.2 42.3L662.3 44.4L663.3 47.8L660.4 45.8L657.5 47.8L658.5 44.4L655.6 42.3L659.2 42.2Z"/>
<path d="M681.9 38.8L683.1 42.2L686.7 42.3L683.8 44.4L684.9 47.8L681.9 45.8L679.0 47.8L680.0 44.4L677.2 42.3L680.7 42.2Z"/>
<path d="M703.4 38.5L704.6 41.9L708.2 42.0L705.3 44.1L706.4 47.5L703.4 45.5L700.5 47.5L701.5 44.1L698.7 42.0L702.3 41.9Z"/>
<path d="M725.0 37.8L726.1 41.2L729.7 41.3L726.9 43.4L727.9 46.8L725.0 44.8L722.0 46.8L723.0 43.4L720.2 41.3L723.8 41.2Z"/>
<path d="M746.5 36.5L747.6 39.9L751.2 40.0L748.4 42.1L749.4 45.5L746.5 43.5L743.5 45.5L744.6 42.1L741.7 40.0L745.3 39.9Z"/>
<path d="M768.0 36.5L769.2 39.9L772.7 40.0L769.9 42.1L770.9 45.5L768.0 43.5L765.0 45.5L766.1 42.1L763.2 40.0L766.8 39.9Z"/>
<path d="M789.5 36.5L790.7 39.9L794.3 40.0L791.4 42.1L792.4 45.5L789.5 43.5L786.6 45.5L787.6 42.1L784.7 40.0L788.3 39.9Z"/>
<path d="M811.0 30.1L812.2 33.5L815.8 33.6L812.9 35.7L813.9 39.1L811.0 37.1L808.1 39.1L809.1 35.7L806.3 33.6L809.8 33.5Z"/>
<path d="M832.5 29.5L833.7 32.9L837.3 33.0L834.4 35.1L835.5 38.5L832.5 36.5L829.6 38.5L830.6 35.1L827.8 33.0L831.3 32.9Z"/>
<path d="M854.0 28.3L855.2 31.7L858.8 31.8L855.9 33.9L857.0 37.3L854.0 35.3L851.1 37.3L852.1 33.9L849.3 31.8L852.9 31.7Z"/>
<path d="M875.6 27.1L876.7 30.5L880.3 30.6L877.5 32.7L878.5 36.1L875.6 34.1L872.6 36.1L873.7 32.7L870.8 30.6L874.4 30.5Z"/>
<path d="M897.1 27.1L898.2 30.5L901.8 30.6L899.0 32.7L900.0 36.1L897.1 34.1L894.1 36.1L895.2 32.7L892.3 30.6L895.9 30.5Z"/>
<path d="M918.6 26.0L919.8 29.4L923.3 29.5L920.5 31.6L921.5 35.0L918.6 33.0L915.6 35.0L916.7 31.6L913.8 29.5L917.4 29.4Z"/>
<path d="M940.1 24.7L941.3 28.1L944.9 28.2L942.0 30.3L943.0 33.7L940.1 31.7L937.2 33.7L938.2 30.3L935.3 28.2L938.9 28.1Z"/>
<path d="M961.6 24.5L962.8 27.9L966.4 28.0L963.5 30.1L964.6 33.5L961.6 31.5L958.7 33.5L959.7 30.1L956.9 28.0L960.4 27.9Z"/>
<path d="M983.1 22.7L984.3 26.1L987.9 26.2L985.0 28.3L986.1 31.7L983.1 29.7L980.2 31.7L981.2 28.3L978.4 26.2L982.0 26.1Z"/>
<path d="M1004.6 22.1L1005.8 25.5L1009.4 25.6L1006.5 27.7L1007.6 31.1L1004.6 29.1L1001.7 31.1L1002.7 27.7L999.9 25.6L1003.5 25.5Z"/>
<path d="M1026.2 21.0L1027.3 24.4L1030.9 24.5L1028.1 26.6L1029.1 30.0L1026.2 28.0L1023.2 30.0L1024.3 26.6L1021.4 24.5L1025.0 24.4Z"/>
<path d="M1047.7 21.0L1048.9 24.4L1052.4 24.5L1049.6 26.6L1050.6 30.0L1047.7 28.0L1044.7 30.0L1045.8 26.6L1042.9 24.5L1046.5 24.4Z"/>
<path d="M1069.2 20.0L1070.4 23.4L1073.9 23.5L1071.1 25.6L1072.1 29.0L1069.2 27.0L1066.3 29.0L1067.3 25.6L1064.4 23.5L1068.0 23.4Z"/>
<path d="M1090.7 19.5L1091.9 22.9L1095.5 23.0L1092.6 25.1L1093.6 28.5L1090.7 26.5L1087.8 28.5L1088.8 25.1L1085.9 23.0L1089.5 22.9Z"/>
<path d="M1112.2 19.3L1113.4 22.7L1117.0 22.8L1114.1 24.9L1115.2 28.3L1112.2 26.3L1109.3 28.3L1110.3 24.9L1107.5 22.8L1111.0 22.7Z"/>
<path d="M1133.7 19.0L1134.9 22.4L1138.5 22.5L1135.6 24.6L1136.7 28.0L1133.7 26.0L1130.8 28.0L1131.8 24.6L1129.0 22.5L1132.6 22.4Z"/>
<path d="M1155.2 18.0L1156.4 21.4L1160.0 21.5L1157.2 23.6L1158.2 27.0L1155.2 25.0L1152.3 27.0L1153.3 23.6L1150.5 21.5L1154.1 21.4Z"/>
</g></g>

<rect x="880" y="585.8" width="251" height="249.3" fill="#fff" stroke="#262626" stroke-width="1.9"/>
<g fill="none" stroke="#ff0000" stroke-linejoin="round"><path stroke-width="2.15" d="M893 605.2H967.8"/><g stroke-width="2.1"><rect x="925.8" y="600.5" width="9.4" height="9.4"/></g></g>
<text class="lg" x="973.3" y="614.5">Ours</text>
<g fill="none" stroke="#0000ff" stroke-linejoin="round"><path stroke-width="2.15" d="M893 635.3H967.8"/><g stroke-width="2.1"><circle cx="930.5" cy="635.3" r="5.4"/></g></g>
<text class="lg" x="973.3" y="644.6">Michaeli &amp; Irani</text>
<g fill="none" stroke="#ff00ff" stroke-linejoin="round"><path stroke-width="2.15" d="M893 665.5H967.8"/><g stroke-width="2.1"><path d="M925.5 660.5L935.5 670.5M925.5 670.5L935.5 660.5"/></g></g>
<text class="lg" x="973.3" y="674.8">Cho &amp; Lee</text>
<g fill="none" stroke="#ff00ff" stroke-linejoin="round"><path stroke-width="2.15" d="M893 695.6H967.8"/><g stroke-width="2.1"><path d="M924.5 695.6H936.5M930.5 689.6V701.6M925.5 690.6L935.5 700.6M925.5 700.6L935.5 690.6"/></g></g>
<text class="lg" x="973.3" y="704.9">Cho et al.</text>
<g fill="none" stroke="#00ffff" stroke-linejoin="round"><path stroke-width="2.15" d="M893 725.8H967.8"/><g stroke-width="2.1"><path d="M926.2 719.3L937.8 725.8L926.2 732.3Z"/></g></g>
<text class="lg" x="973.3" y="735.1">Krishnan et al.</text>
<g fill="none" stroke="#00ff00" stroke-linejoin="round"><path stroke-width="2.15" d="M893 755.9H967.8"/><g stroke-width="2.1"><path d="M924.0 751.6L930.5 763.2L937.0 751.6Z"/></g></g>
<text class="lg" x="973.3" y="765.2">Levin et al.</text>
<g fill="none" stroke="#000000" stroke-linejoin="round"><path stroke-width="2.15" d="M893 786.0H967.8"/><g stroke-width="2.1"><path d="M934.8 779.5L923.2 786.0L934.8 792.5Z"/></g></g>
<text class="lg" x="973.3" y="795.3">Sun et al.</text>
<g fill="none" stroke="#ffff00" stroke-linejoin="round"><path stroke-width="2.15" d="M893 816.2H967.8"/><g stroke-width="2.1"><path d="M930.5 811.2L931.7 814.6L935.3 814.6L932.4 816.8L933.4 820.2L930.5 818.2L927.6 820.2L928.6 816.8L925.7 814.6L929.3 814.6Z"/></g></g>
<text class="lg" x="973.3" y="825.5">Xu &amp; Jia</text>
</svg></body></html>
